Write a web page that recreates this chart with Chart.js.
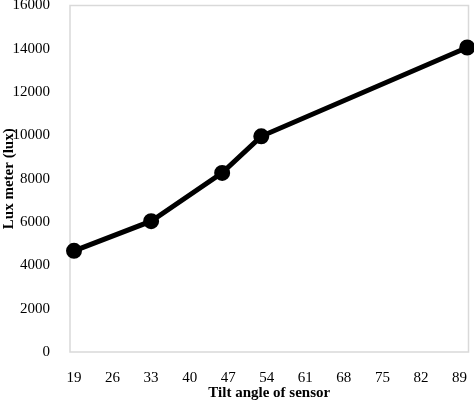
<!DOCTYPE html>
<html>
<head>
<meta charset="utf-8">
<script src="https://cdn.jsdelivr.net/npm/chart.js@4/dist/chart.umd.min.js"></script>
<style>
html,body{margin:0;padding:0;background:#fff;overflow:hidden;}
#wrap{width:474px;height:402px;overflow:hidden;}
#c{display:block;margin-top:-5px;}
</style>
</head>
<body>
<div id="wrap"><canvas id="c" width="479" height="407"></canvas></div>
<script>
const tiltAngles = [19, 33, 45.9, 53, 90.4];
const luxValues = [4670, 6040, 8270, 9960, 14060];
const xTickLabels = [19, 26, 33, 40, 47, 54, 61, 68, 75, 82, 89];
const yTickLabels = [0, 2000, 4000, 6000, 8000, 10000, 12000, 14000, 16000];

const boxPlugin = {
  id: 'box',
  beforeDatasetsDraw(chart) {
    const a = chart.chartArea, ctx = chart.ctx;
    ctx.save();
    ctx.strokeStyle = '#d9d9d9';
    ctx.lineWidth = 1.5;
    ctx.strokeRect(a.left, a.top, a.right - a.left, a.bottom - a.top);
    ctx.restore();
  }
};

new Chart(document.getElementById('c'), {
  type: 'scatter',
  data: {
    datasets: [{
      data: tiltAngles.map((x, i) => ({x: x, y: luxValues[i]})),
      showLine: true,
      borderColor: '#000',
      backgroundColor: '#000',
      borderWidth: 5,
      pointRadius: 5.5,
      pointHoverRadius: 5.5,
      clip: false,
      tension: 0
    }]
  },
  options: {
    responsive: false,
    animation: false,
    devicePixelRatio: 1,
    layout: {padding: {top: 0, right: 0, left: 0, bottom: 0}},
    plugins: {legend: {display: false}, tooltip: {enabled: false}},
    scales: {
      x: {
        type: 'linear',
        min: 18.27,
        max: 90.63,
        afterBuildTicks(s) { s.ticks = xTickLabels.map(v => ({value: v})); },
        afterFit(s) { s.height = 50; s.paddingLeft = 0; s.paddingRight = 0; },
        grid: {display: false},
        border: {display: false},
        ticks: {
          color: '#000',
          padding: 9,
          font: {family: 'Liberation Serif', size: 15},
          maxRotation: 0,
          autoSkip: false
        },
        title: {
          display: true,
          text: 'Tilt angle of sensor',
          color: '#000',
          font: {family: 'Liberation Serif', size: 15, weight: 'bold'},
          padding: {top: 3, bottom: 0}
        }
      },
      y: {
        min: 0,
        max: 16000,
        afterBuildTicks(s) { s.ticks = yTickLabels.map(v => ({value: v})); },
        afterFit(s) { s.width = 70; s.paddingTop = 0; s.paddingBottom = 0; },
        grid: {display: false},
        border: {display: false},
        ticks: {
          color: '#000',
          padding: 12,
          font: {family: 'Liberation Serif', size: 15},
          callback: v => String(v)
        },
        title: {
          display: true,
          text: 'Lux meter (lux)',
          color: '#000',
          font: {family: 'Liberation Serif', size: 15, weight: 'bold'},
          padding: {top: 0, bottom: 0}
        }
      }
    }
  },
  plugins: [boxPlugin]
});
</script>
</body>
</html>
